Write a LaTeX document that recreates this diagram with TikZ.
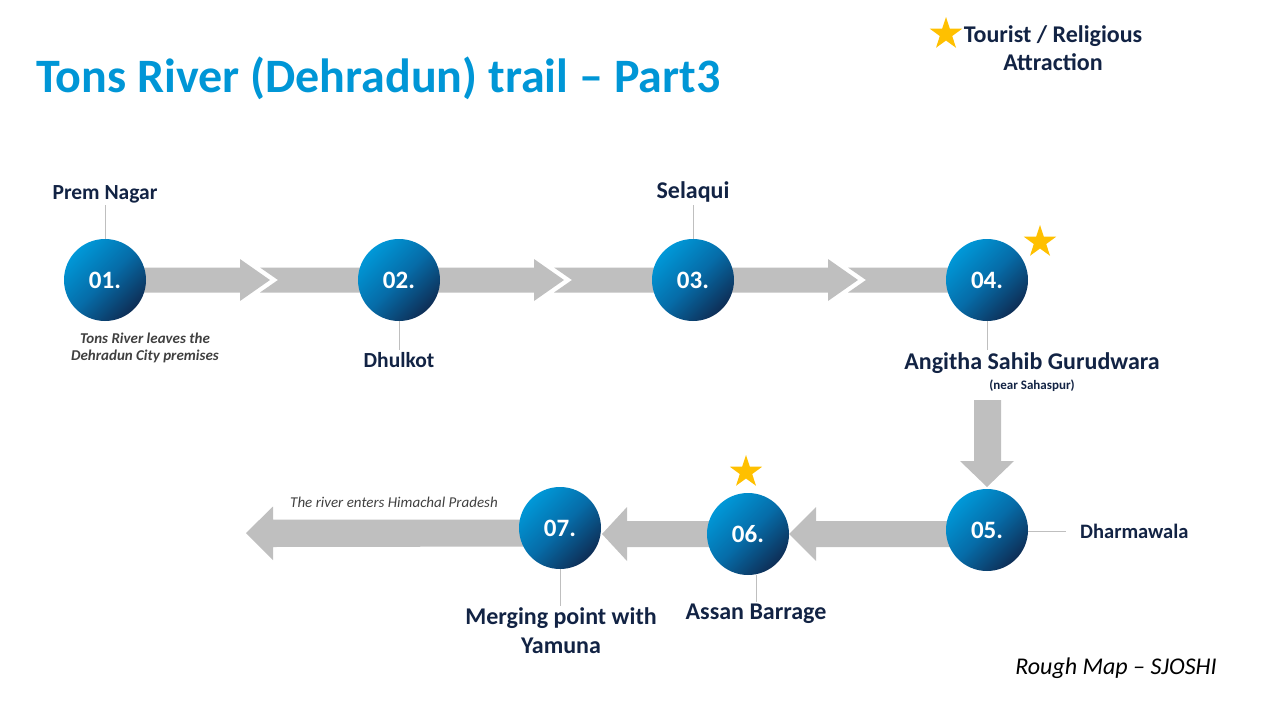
\documentclass[tikz,border=0pt]{standalone}
\usepackage{fontspec}
\setmainfont{Carlito}
\usetikzlibrary{shapes.geometric, positioning}

\definecolor{titleblue}{RGB}{0,150,214}
\definecolor{ballhi}{RGB}{0,152,216}
\definecolor{ballmid}{RGB}{6,108,168}
\definecolor{balllo}{RGB}{14,46,86}
\definecolor{navytext}{RGB}{18,35,68}
\definecolor{flowgray}{RGB}{191,191,191}
\definecolor{stargold}{RGB}{255,192,0}
\definecolor{notegray}{RGB}{64,64,64}

\tikzset{
  flow/.style={fill=flowgray},
  ball/.style={circle, minimum size=82pt, inner sep=0pt,
    top color=ballhi, bottom color=balllo, middle color=ballmid, shading angle=45,
    text=white, font=\fontsize{25}{30}\selectfont\bfseries},
  goldstar/.style={star, star points=5, star point ratio=2.6, fill=stargold,
    inner sep=0pt, minimum size=34pt},
  lbl/.style={text=navytext, inner sep=2pt, font=\fontsize{24}{29}\selectfont\bfseries},
  note/.style={text=notegray, align=center, font=\fontsize{15}{17}\selectfont\bfseries\itshape},
  tick/.style={draw=gray!50, line width=0.8pt}
}

\begin{document}
\begin{tikzpicture}[x=1pt, y=-1pt]
    \useasboundingbox (0,0) rectangle (1280,720);

    % Title and key
    \node[anchor=west, inner sep=0pt, text=titleblue, font=\fontsize{48}{56}\selectfont\bfseries] (title) at (36,78) {Tons River (Dehradun) trail – Part3};
    \node[goldstar] (skey) at (946,34) {};
    \node[lbl, align=center, font=\fontsize{24}{28}\selectfont\bfseries] (key) at (1053,48) {Tourist / Religious\\Attraction};

    % Stop centres
    \coordinate (p1) at (105,280);
    \coordinate (p2) at (399,280);
    \coordinate (p3) at (693,280);
    \coordinate (p4) at (987,280);
    \coordinate (p5) at (987,530);
    \coordinate (p6) at (748,534);
    \coordinate (p7) at (560,528);

    % Flow arrows, top row
    \fill[flow] ([shift={(0,-12.5)}]p1) -- ++(135,0) -- ++(0,-8.5) -- ++(30,21) -- ++(-30,21) -- ++(0,-8.5) -- ++(-135,0) -- cycle;
    \fill[flow] ([shift={(155,-12.5)}]p1) -- ([shift={(0,-12.5)}]p2) -- ([shift={(0,12.5)}]p2) -- ([shift={(155,12.5)}]p1) -- ([shift={(173,0)}]p1) -- cycle;
    \fill[flow] ([shift={(0,-12.5)}]p2) -- ++(135,0) -- ++(0,-8.5) -- ++(30,21) -- ++(-30,21) -- ++(0,-8.5) -- ++(-135,0) -- cycle;
    \fill[flow] ([shift={(155,-12.5)}]p2) -- ([shift={(0,-12.5)}]p3) -- ([shift={(0,12.5)}]p3) -- ([shift={(155,12.5)}]p2) -- ([shift={(173,0)}]p2) -- cycle;
    \fill[flow] ([shift={(0,-12.5)}]p3) -- ++(135,0) -- ++(0,-8.5) -- ++(30,21) -- ++(-30,21) -- ++(0,-8.5) -- ++(-135,0) -- cycle;
    \fill[flow] ([shift={(155,-12.5)}]p3) -- ([shift={(0,-12.5)}]p4) -- ([shift={(0,12.5)}]p4) -- ([shift={(155,12.5)}]p3) -- ([shift={(173,0)}]p3) -- cycle;

    % Flow arrow down to 05
    \fill[flow] ([shift={(-13,-130)}]p5) -- ++(27,0) -- ++(0,61) -- ++(13,0) -- ([shift={(0,-43)}]p5) -- ([shift={(-27,-69)}]p5) -- ++(14,0) -- cycle;

    % Flow arrows, bottom row (leftwards)
    \fill[flow] ([shift={(239,-13)}]p6) -- ([shift={(68,-13)}]p6) -- ++(0,-14) -- ([shift={(41,0)}]p6) -- ([shift={(68,27)}]p6) -- ++(0,-14) -- ([shift={(239,13)}]p6) -- cycle;
    \fill[flow] ([shift={(0,-13)}]p6) -- ([shift={(-121,-13)}]p6) -- ++(0,-14) -- ([shift={(-146,0)}]p6) -- ([shift={(-121,27)}]p6) -- ++(0,-14) -- ([shift={(0,13)}]p6) -- cycle;
    \fill[flow] ([shift={(0,-8.5)}]p7) -- ([shift={(-287,-8.5)}]p7) -- ++(0,-13) -- ([shift={(-314,5)}]p7) -- ([shift={(-287,32)}]p7) -- ++(0,-13) -- ([shift={(0,18.5)}]p7) -- cycle;

    % Stops
    \node[ball] (c1) at (p1) {01.};
    \node[ball] (c2) at (p2) {02.};
    \node[ball] (c3) at (p3) {03.};
    \node[ball] (c4) at (p4) {04.};
    \node[ball] (c5) at (p5) {05.};
    \node[ball] (c6) at (p6) {06.};
    \node[ball] (c7) at (p7) {07.};

    % Attraction stars
    \node[goldstar] (s4) at (1040,242) {};
    \node[goldstar] (s6) at (746,472) {};

    % Place names
    \node[lbl, font=\fontsize{21.5}{26}\selectfont\bfseries] (l1) at (105,194) {Prem Nagar};
    \node[lbl, font=\fontsize{21.5}{26}\selectfont\bfseries] (l2) at (399,360) {Dhulkot};
    \node[lbl] (l3) at (693,192) {Selaqui};
    \node[lbl] (l4) at (1032,363) {Angitha Sahib Gurudwara};
    \node[text=navytext, inner sep=1pt, font=\fontsize{13}{15}\selectfont\bfseries] (l4b) at (1032,386) {(near Sahaspur)};
    \node[lbl, anchor=west, font=\fontsize{20.5}{24}\selectfont\bfseries] (l5) at (1078,531) {Dharmawala};
    \node[lbl] (l6) at (756,614) {Assan Barrage};
    \node[lbl, align=center, font=\fontsize{24}{29}\selectfont\bfseries] (l7) at (561,631) {Merging point with\\Yamuna};

    % Leader lines
    \draw[tick] (c1.north) -- (l1.south);
    \draw[tick] (c2.south) -- (l2.north);
    \draw[tick] (c3.north) -- (l3.south);
    \draw[tick] (c4.south) -- (c4.south |- l4.north);
    \draw[tick, shorten >=12pt] (c5.east |- l5.west) -- (l5.west);
    \draw[tick] (c6.south -| l6.north) -- (l6.north);
    \draw[tick] (c7.south) -- (c7.south |- l7.north);

    % Notes
    \node[note] (n1) at (145,348) {Tons River leaves the\\Dehradun City premises};
    \node[note, font=\fontsize{15}{17}\selectfont\itshape] (n7) at (394,502) {The river enters Himachal Pradesh};
    \node[font=\fontsize{24}{28}\selectfont\itshape] (credit) at (1116,668) {Rough Map – SJOSHI};
\end{tikzpicture}
\end{document}
